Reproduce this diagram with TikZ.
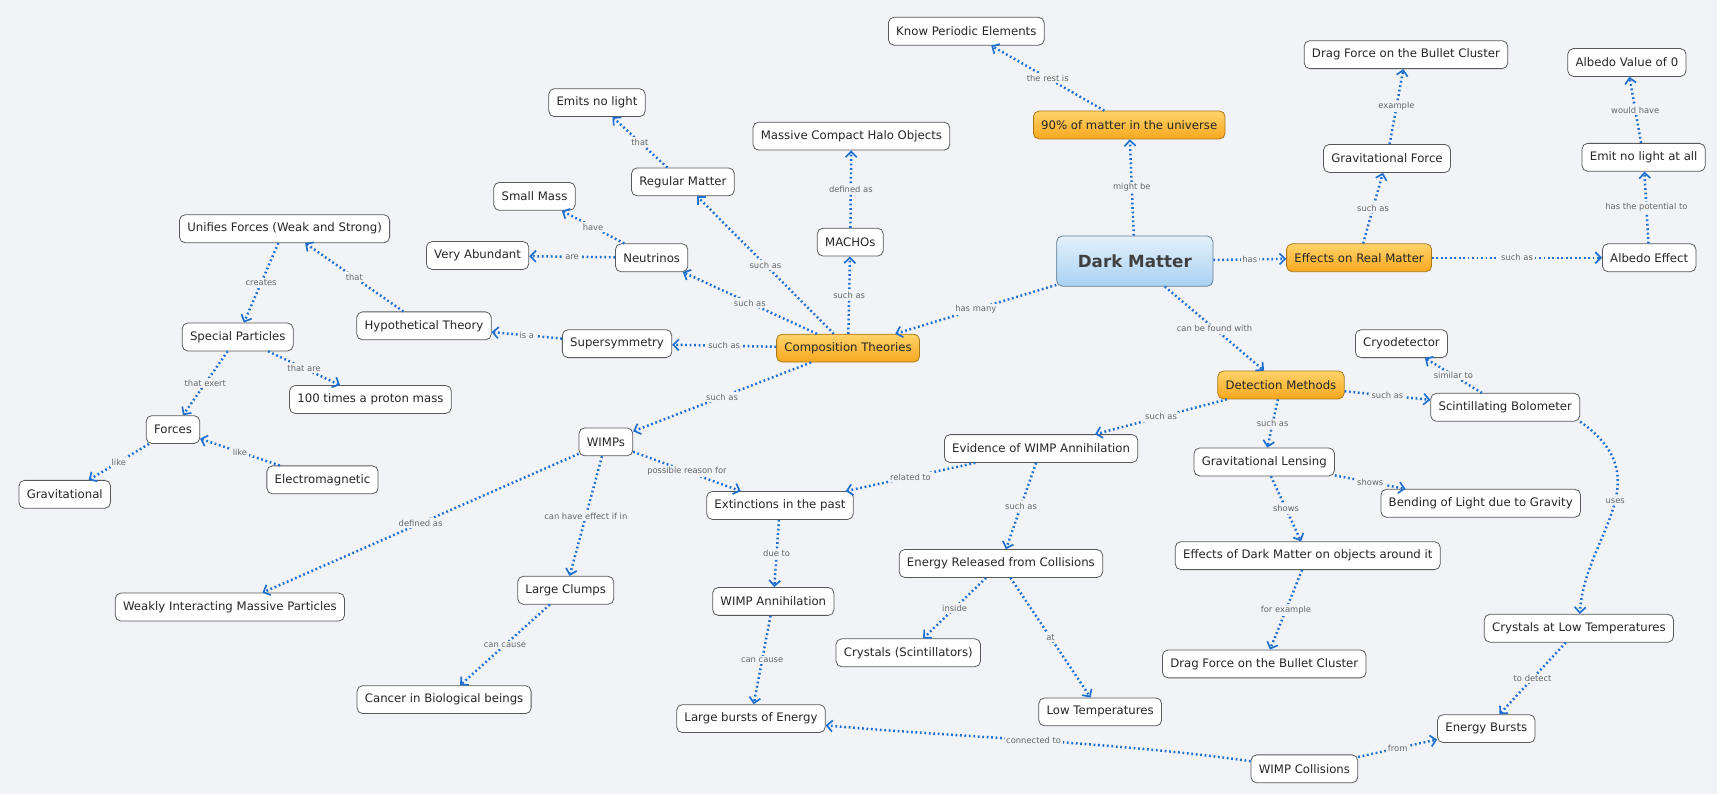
\documentclass[tikz,border=0pt]{standalone}
\usepackage{fontspec}
\setmainfont{DejaVu Sans}
\usetikzlibrary{arrows.meta}
\definecolor{bg}{HTML}{F1F3F6}
\definecolor{ln}{HTML}{1F6FD0}
\definecolor{orT}{HTML}{FFD36B}
\definecolor{orB}{HTML}{F7A81E}
\definecolor{blT}{HTML}{E4F1FC}
\definecolor{blB}{HTML}{A9D1F2}
\tikzset{
 box/.style={draw=black!65,fill=white,rounded corners=5pt,inner xsep=7pt,minimum height=25pt,font=\fontsize{10.5}{12}\selectfont,text=black!85,line width=0.7pt},
 orbox/.style={box,top color=orT,bottom color=orB,draw=orB!70!black},
 dmbox/.style={box,top color=blT,bottom color=blB,draw=blB!60!black,minimum width=140pt,minimum height=45pt,text=black!75,font=\fontsize{15}{18}\selectfont\bfseries},
 con/.style={draw=ln,line width=2.2pt,dash pattern=on 1.6pt off 2.4pt,-{Straight Barb[length=5pt,width=10pt,line width=1.5pt]}},
 lab/.style={fill=bg,text=black!60,font=\fontsize{7.5}{8}\selectfont,inner sep=1.5pt}
}
\begin{document}
\begin{tikzpicture}[x=1pt,y=-1pt]
\fill[white] (0,0) rectangle (1554,712);
\fill[bg] (0,0) rectangle (1539,712);
\useasboundingbox (0,0) rectangle (1554,712);
\node[dmbox] (DM) at (1017,234) {Dark Matter};
\node[orbox] (p90) at (1012,112) {90\% of matter in the universe};
\node[box] (KPE) at (866,28) {Know Periodic Elements};
\node[orbox] (EoRM) at (1218,231) {Effects on Real Matter};
\node[box] (GF) at (1243,142) {Gravitational Force};
\node[box] (DFB1) at (1260,49) {Drag Force on the Bullet Cluster};
\node[box] (AE) at (1478,231) {Albedo Effect};
\node[box] (ENL) at (1473,141) {Emit no light at all};
\node[box] (AV0) at (1458,56) {Albedo Value of 0};
\node[orbox] (CT) at (760,312) {Composition Theories};
\node[box] (MACHO) at (762,217) {MACHOs};
\node[box] (MCHO) at (763,122) {Massive Compact Halo Objects};
\node[box] (RM) at (612,163) {Regular Matter};
\node[box] (ENoL) at (535,92) {Emits no light};
\node[box] (Neu) at (584,231) {Neutrinos};
\node[box] (SM) at (479,176) {Small Mass};
\node[box] (VA) at (428,229) {Very Abundant};
\node[box] (SUSY) at (553,308) {Supersymmetry};
\node[box] (HT) at (380,292) {Hypothetical Theory};
\node[box] (UF) at (255,205) {Unifies Forces (Weak and Strong)};
\node[box] (SP) at (213,302) {Special Particles};
\node[box] (H100) at (332,358) {100 times a proton mass};
\node[box] (Forces) at (155,385) {Forces};
\node[box] (Grav) at (58,443) {Gravitational};
\node[box] (EM) at (289,430) {Electromagnetic};
\node[box] (WIMPs) at (543,396) {WIMPs};
\node[box] (WD) at (206,544) {Weakly Interacting Massive Particles};
\node[box] (LC) at (507,529) {Large Clumps};
\node[box] (Cancer) at (398,627) {Cancer in Biological beings};
\node[box] (Ext) at (699,453) {Extinctions in the past};
\node[box] (WA) at (693,539) {WIMP Annihilation};
\node[box] (LBE) at (673,644) {Large bursts of Energy};
\node[orbox] (DetM) at (1148,345) {Detection Methods};
\node[box] (EWA) at (933,402) {Evidence of WIMP Annihilation};
\node[box] (ERC) at (897,505) {Energy Released from Collisions};
\node[box] (Cryst) at (814,585) {Crystals (Scintillators)};
\node[box] (LT) at (986,638) {Low Temperatures};
\node[box] (GL) at (1133,414) {Gravitational Lensing};
\node[box] (BL) at (1327,451) {Bending of Light due to Gravity};
\node[box] (EDM) at (1172,498) {Effects of Dark Matter on objects around it};
\node[box] (DFB2) at (1133,595) {Drag Force on the Bullet Cluster};
\node[box] (Cryo) at (1256,308) {Cryodetector};
\node[box] (SB) at (1349,365) {Scintillating Bolometer};
\node[box] (CLT) at (1415,563) {Crystals at Low Temperatures};
\node[box] (EB) at (1332,653) {Energy Bursts};
\node[box] (WC) at (1169,689) {WIMP Collisions};

\draw[con] (DM) -- node[lab]{might be} (p90);
\draw[con] (p90) -- node[lab]{the rest is} (KPE);
\draw[con] (DM) -- node[lab]{has} (EoRM);
\draw[con] (EoRM) -- node[lab]{such as} (GF);
\draw[con] (GF) -- node[lab]{example} (DFB1);
\draw[con] (EoRM) -- node[lab]{such as} (AE);
\draw[con] (AE) -- node[lab]{has the potential to} (ENL);
\draw[con] (ENL) -- node[lab]{would have} (AV0);
\draw[con] (DM) -- node[lab]{has many} (CT);
\draw[con] (CT) -- node[lab]{such as} (MACHO);
\draw[con] (MACHO) -- node[lab]{defined as} (MCHO);
\draw[con] (CT) -- node[lab]{such as} (RM);
\draw[con] (RM) -- node[lab]{that} (ENoL);
\draw[con] (CT) -- node[lab]{such as} (Neu);
\draw[con] (Neu) -- node[lab]{have} (SM);
\draw[con] (Neu) -- node[lab]{are} (VA);
\draw[con] (CT) -- node[lab]{such as} (SUSY);
\draw[con] (SUSY) -- node[lab]{is a} (HT);
\draw[con] (HT) -- node[lab]{that} (UF);
\draw[con] (UF) -- node[lab]{creates} (SP);
\draw[con] (SP) -- node[lab]{that are} (H100);
\draw[con] (SP) -- node[lab]{that exert} (Forces);
\draw[con] (Forces) -- node[lab]{like} (Grav);
\draw[con] (EM) -- node[lab]{like} (Forces);
\draw[con] (CT) -- node[lab]{such as} (WIMPs);
\draw[con] (WIMPs) -- node[lab]{defined as} (WD);
\draw[con] (WIMPs) -- node[lab]{can have effect if in} (LC);
\draw[con] (LC) -- node[lab]{can cause} (Cancer);
\draw[con] (WIMPs) -- node[lab]{possible reason for} (Ext);
\draw[con] (Ext) -- node[lab]{due to} (WA);
\draw[con] (WA) -- node[lab]{can cause} (LBE);
\draw[con] (DM) -- node[lab]{can be found with} (DetM);
\draw[con] (DetM) -- node[lab]{such as} (EWA);
\draw[con] (EWA) -- node[lab]{related to} (Ext);
\draw[con] (EWA) -- node[lab]{such as} (ERC);
\draw[con] (ERC) -- node[lab]{inside} (Cryst);
\draw[con] (ERC) -- node[lab]{at} (LT);
\draw[con] (DetM) -- node[lab]{such as} (GL);
\draw[con] (GL) -- node[lab]{shows} (BL);
\draw[con] (GL) -- node[lab]{shows} (EDM);
\draw[con] (EDM) -- node[lab]{for example} (DFB2);
\draw[con] (DetM) -- node[lab]{such as} (SB);
\draw[con] (SB) -- node[lab]{similar to} (Cryo);
\draw[con] (SB.south east) .. controls (1490,430) and (1420,480) .. node[lab,pos=0.45]{uses} (CLT);
\draw[con] (CLT) -- node[lab]{to detect} (EB);
\draw[con] (WC) -- node[lab]{from} (EB);
\draw[con] (WC) .. controls (1000,665) and (850,660) .. node[lab]{connected to} (LBE);
\end{tikzpicture}
\end{document}
